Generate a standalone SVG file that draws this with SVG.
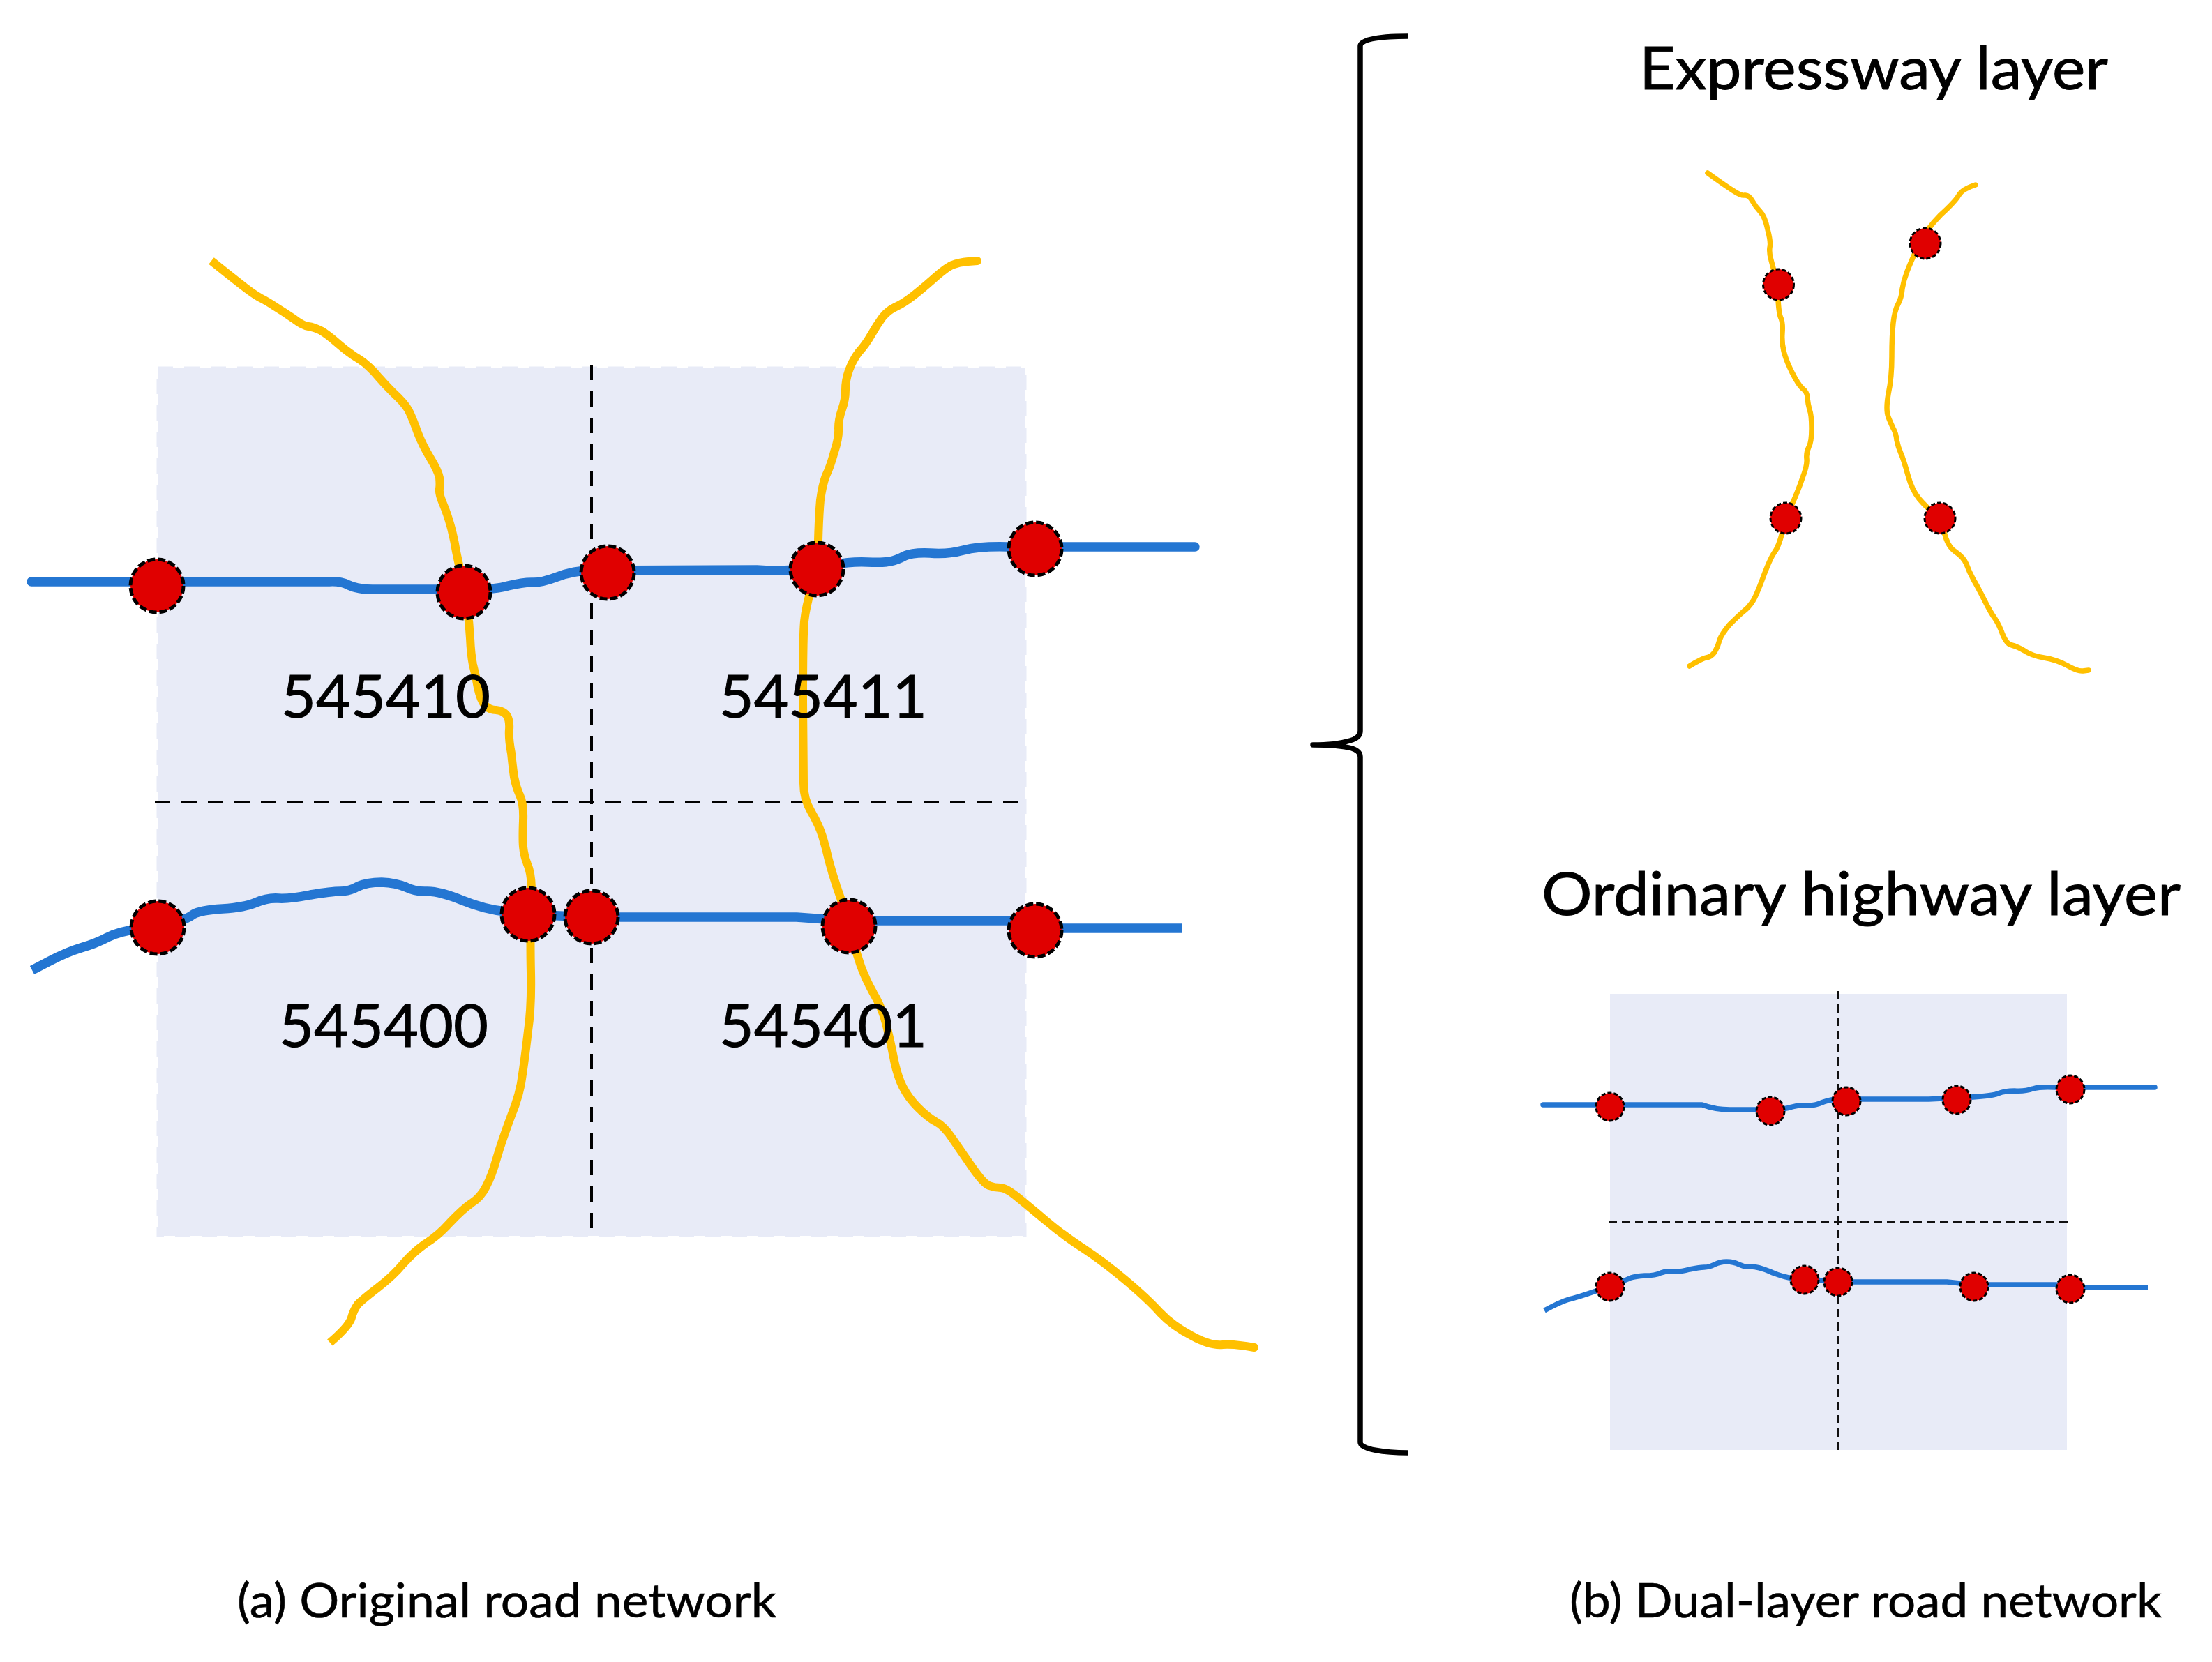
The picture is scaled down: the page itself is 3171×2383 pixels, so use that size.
<svg xmlns="http://www.w3.org/2000/svg" width="3171" height="2383" viewBox="0 0 3171 2383">
<style>
.bg{fill:#fff}
.cell{fill:#E8EBF7}
.celldash{fill:#E8EBF7;stroke:#E8EBF7;stroke-width:3;stroke-dasharray:22 16}
.grid{stroke:#000;fill:none;stroke-width:4;stroke-dasharray:22 16}
.grids{stroke:#111;fill:none;stroke-width:3;stroke-dasharray:12 7}
.y1{stroke:#FFC000;fill:none;stroke-width:12;stroke-linejoin:round}
.b1{stroke:#2476D2;fill:none;stroke-width:13.5;stroke-linejoin:round}
.y2{stroke:#FFC000;fill:none;stroke-width:7.5;stroke-linejoin:round;stroke-linecap:round}
.b2{stroke:#2476D2;fill:none;stroke-width:7.5;stroke-linejoin:round}
.rc{stroke-linecap:round}
.n1{fill:#E00000;stroke:#000;stroke-width:5;stroke-dasharray:11 4}
.n2{fill:#E00000;stroke:#000;stroke-width:3;stroke-dasharray:6 3}
.brace{stroke:#000;fill:none;stroke-width:7.5;stroke-linejoin:round}
text{font-family:"Lato","Carlito","Open Sans",sans-serif;fill:#000;stroke:#000;stroke-width:1}
.lab{font-size:86px}
.head{font-size:86px}
.cap{font-size:68px;stroke-width:.6}
</style>
<rect class="bg" x="0" y="0" width="3171" height="2383"/>
<g id="panel-a-background">
<rect class="celldash" x="226" y="527" width="1244" height="1245"/>
</g>
<g id="panel-b-background">
<rect class="cell" x="2308" y="1425" width="655" height="654"/>
</g>
<g id="grid-lines">
<path class="grid" d="M848 523V1777M222 1150H1476"/>
<path class="grids" d="M2635 1421V2082M2306 1752H2966"/>
</g>
<g id="connectors">
<path id="expressway-a-left" class="y1" d="M303 374Q338 402 351 412Q364 422 373 427Q383 432 395 440Q408 448 421 457Q434 467 442 468Q450 469 460 474Q469 479 485 493Q501 507 515 515Q529 524 543 541Q558 558 571 570Q584 583 588 593Q593 604 599 621Q606 639 617 657Q628 675 630 685Q631 695 630 701Q629 708 635 722Q641 736 646 754Q651 772 654 791Q658 810 662 829Q666 848 669 870Q673 892 674 915Q675 938 678 953Q682 968 685 986Q689 1004 695 1011Q702 1018 711 1018Q721 1019 726 1025Q731 1032 730 1046Q729 1060 733 1080Q735 1100 737 1114Q740 1129 745 1140Q751 1152 750 1177Q749 1203 750 1214Q751 1226 756 1239Q762 1252 762 1279Q763 1307 761 1327Q760 1347 761 1395Q762 1444 757 1478Q753 1513 749 1540Q746 1568 732 1602Q719 1637 712 1661Q705 1686 697 1701Q689 1717 676 1725Q663 1734 645 1753Q628 1772 610 1783Q593 1795 578 1812Q564 1829 542 1846Q520 1863 513 1870Q507 1878 504 1889Q501 1901 473 1925"/>
<path id="expressway-a-right" class="y1 rc" d="M1401 374L1388 375Q1375 376 1365 380Q1356 384 1338 400Q1321 415 1308 425Q1295 435 1284 440Q1273 445 1265 455Q1257 466 1249 480Q1241 494 1231 505Q1222 517 1217 531Q1212 545 1212 559Q1212 573 1207 587Q1202 601 1202 614Q1203 627 1196 648Q1190 670 1184 682Q1179 695 1176 717Q1174 739 1173 775Q1173 810 1164 840Q1155 871 1153 891Q1151 912 1151 1006Q1152 1100 1152 1123Q1152 1146 1163 1164Q1174 1183 1179 1199Q1184 1215 1188 1233Q1193 1252 1199 1270Q1206 1289 1211 1308Q1217 1327 1222 1347Q1228 1367 1234 1385Q1241 1404 1252 1424Q1264 1444 1270 1467Q1276 1490 1281 1516Q1286 1542 1294 1558Q1302 1574 1316 1588Q1330 1602 1341 1608Q1353 1614 1365 1632Q1378 1651 1394 1674Q1410 1697 1418 1700Q1426 1703 1434 1703Q1442 1703 1458 1716Q1474 1729 1499 1750Q1525 1772 1553 1790Q1582 1809 1614 1836Q1646 1863 1663 1882Q1681 1901 1708 1915Q1735 1930 1753 1928Q1771 1927 1798 1932"/>
<path id="highway-a-top" class="b1 rc" d="M45 834L472 834Q488 833 500 839Q513 845 534 845L663 845Q708 846 728 840Q749 835 762 835Q775 836 799 827Q823 818 847 818L1085 817Q1110 819 1140 817Q1171 815 1195 810Q1219 805 1243 806Q1267 807 1276 805Q1286 803 1297 797Q1308 792 1333 793Q1359 795 1381 789Q1404 783 1444 784L1713 784"/>
<path id="highway-a-bottom" class="b1" d="M46 1391L71 1378Q96 1365 116 1359Q137 1353 154 1344Q172 1335 199 1332Q226 1330 247 1324Q268 1318 277 1311Q287 1305 319 1303Q351 1301 367 1294Q383 1287 399 1288Q415 1289 445 1283Q475 1278 488 1278Q501 1278 513 1271Q526 1265 547 1265Q568 1266 582 1272Q596 1279 613 1278Q631 1278 663 1291Q695 1304 725 1307Q756 1311 802 1313L848 1315L1142 1315Q1181 1318 1217 1320L1448 1320L1484 1326Q1500 1331 1525 1331L1695 1331"/>
<path id="expressway-b-left" class="y2" d="M2448 248Q2473 266 2484 273Q2496 281 2501 280Q2507 279 2512 288Q2517 297 2523 303Q2530 310 2534 329Q2539 348 2537 355Q2536 363 2539 373Q2542 384 2545 396Q2549 408 2549 429Q2550 450 2553 456Q2556 463 2555 477Q2554 491 2557 503Q2560 516 2569 534Q2578 552 2584 557Q2591 562 2591 571Q2592 580 2594 587Q2597 595 2597 614Q2597 634 2593 641Q2589 649 2590 658Q2591 667 2584 685Q2578 703 2569 723Q2560 743 2555 763Q2550 784 2543 793Q2537 802 2527 829Q2517 856 2512 863Q2507 871 2499 877Q2491 884 2479 896Q2468 909 2465 918Q2463 927 2458 935Q2453 942 2446 943Q2440 944 2422 955"/>
<path id="expressway-b-right" class="y2" d="M2832 265Q2813 271 2808 280Q2803 289 2782 308Q2762 328 2750 352Q2739 376 2734 389Q2729 402 2727 414Q2726 427 2721 436Q2716 445 2714 463Q2712 481 2712 511Q2712 542 2707 565Q2703 588 2707 598Q2711 608 2714 614Q2718 621 2719 631Q2721 641 2725 650Q2729 659 2735 681Q2741 703 2751 715Q2762 728 2772 735Q2782 743 2787 763Q2792 784 2803 791Q2815 799 2819 809Q2823 820 2829 831Q2836 843 2845 861Q2854 879 2860 887Q2866 896 2871 910Q2877 924 2884 925Q2892 927 2902 933Q2912 940 2930 943Q2948 946 2963 954Q2979 963 2986 962L2994 961"/>
<path id="highway-b-top" class="b2 rc" d="M2212 1584L2440 1584Q2459 1591 2480 1591L2539 1591Q2558 1591 2569 1587Q2580 1584 2590 1585Q2600 1586 2614 1580Q2628 1575 2647 1576L2765 1576L2807 1574Q2855 1572 2864 1568Q2874 1564 2888 1564Q2903 1565 2914 1561Q2925 1558 2945 1559L3089 1559"/>
<path id="highway-b-bottom" class="b2" d="M2214 1879Q2236 1867 2249 1863Q2262 1860 2285 1852Q2308 1844 2320 1839Q2332 1835 2338 1832Q2344 1830 2358 1829Q2373 1829 2381 1825Q2389 1822 2398 1823Q2408 1824 2422 1820Q2437 1817 2443 1817Q2450 1817 2458 1813Q2466 1809 2475 1809Q2485 1809 2493 1813Q2501 1817 2510 1816Q2520 1816 2537 1823Q2555 1831 2571 1833Q2587 1835 2611 1836L2635 1838L2791 1838L2829 1842L2947 1842Q2968 1846 2990 1846L3079 1846"/>
</g>
<g id="brace">
<path class="brace" d="M2018 52C1985 52 1950 55 1950 66V1048Q1950 1058 1935 1062Q1915 1068 1882 1068Q1920 1068 1938 1073Q1950 1077 1950 1085V2068C1950 2078 1985 2083 2018 2083"/>
</g>
<g id="node-a1"><circle class="n1" cx="225" cy="840" r="38"/></g>
<g id="node-a2"><circle class="n1" cx="665" cy="849" r="38"/></g>
<g id="node-a3"><circle class="n1" cx="871" cy="821" r="38"/></g>
<g id="node-a4"><circle class="n1" cx="1171" cy="816" r="38"/></g>
<g id="node-a5"><circle class="n1" cx="1484" cy="787" r="38"/></g>
<g id="node-a6"><circle class="n1" cx="226" cy="1330" r="38"/></g>
<g id="node-a7"><circle class="n1" cx="757" cy="1311" r="38"/></g>
<g id="node-a8"><circle class="n1" cx="848" cy="1315" r="38"/></g>
<g id="node-a9"><circle class="n1" cx="1217" cy="1328" r="38"/></g>
<g id="node-a10"><circle class="n1" cx="1484" cy="1334" r="38"/></g>
<g id="node-e1"><circle class="n2" cx="2549.5" cy="408" r="22"/></g>
<g id="node-e2"><circle class="n2" cx="2760" cy="349" r="22"/></g>
<g id="node-e3"><circle class="n2" cx="2560" cy="743" r="22"/></g>
<g id="node-e4"><circle class="n2" cx="2781" cy="743" r="22"/></g>
<g id="node-h1"><circle class="n2" cx="2308" cy="1587" r="20"/></g>
<g id="node-h2"><circle class="n2" cx="2538" cy="1593" r="20"/></g>
<g id="node-h3"><circle class="n2" cx="2647" cy="1579" r="20"/></g>
<g id="node-h4"><circle class="n2" cx="2805" cy="1577" r="20"/></g>
<g id="node-h5"><circle class="n2" cx="2968" cy="1562" r="20"/></g>
<g id="node-h6"><circle class="n2" cx="2308" cy="1845" r="20"/></g>
<g id="node-h7"><circle class="n2" cx="2587" cy="1835" r="20"/></g>
<g id="node-h8"><circle class="n2" cx="2635" cy="1838" r="20"/></g>
<g id="node-h9"><circle class="n2" cx="2830" cy="1845" r="20"/></g>
<g id="node-h10"><circle class="n2" cx="2968" cy="1848" r="20"/></g>
<g id="labels">
<text class="lab" x="403" y="1029" textLength="300" lengthAdjust="spacingAndGlyphs">545410</text>
<text class="lab" x="1031" y="1029" textLength="298" lengthAdjust="spacingAndGlyphs">545411</text>
<text class="lab" x="400" y="1501" textLength="300" lengthAdjust="spacingAndGlyphs">545400</text>
<text class="lab" x="1031" y="1501" textLength="298" lengthAdjust="spacingAndGlyphs">545401</text>
<text class="head" x="2350" y="128" textLength="672" lengthAdjust="spacingAndGlyphs">Expressway layer</text>
<text class="head" x="2210" y="1312" textLength="916" lengthAdjust="spacingAndGlyphs">Ordinary highway layer</text>
<text class="cap" x="340" y="2319" textLength="773" lengthAdjust="spacingAndGlyphs">(a) Original road network</text>
<text class="cap" x="2250" y="2319" textLength="849" lengthAdjust="spacingAndGlyphs">(b) Dual-layer road network</text>
</g>
</svg>
